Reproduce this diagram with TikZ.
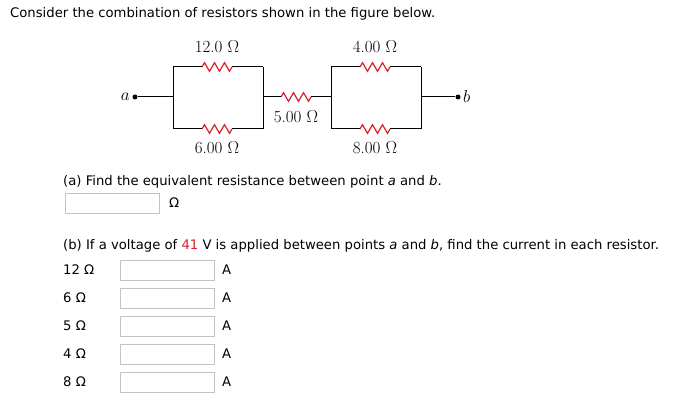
\documentclass[tikz,border=0pt]{standalone}
\usepackage{fontspec}
\newfontfamily\vfont{DejaVu Sans}
\definecolor{resred}{RGB}{220,30,45}
\definecolor{boxgray}{RGB}{195,195,195}
\begin{document}
\begin{tikzpicture}[x=1pt,y=-1pt,
  wire/.style={line width=1pt},
  res/.style={draw=resred,line width=1.2pt,line join=miter},
  lbl/.style={font=\fontsize{17}{18}\selectfont,inner sep=0pt},
  txt/.style={font=\vfont\fontsize{13.2}{15}\selectfont,inner sep=0pt,anchor=west},
  ansbox/.style={draw=boxgray,line width=0.8pt,minimum width=94pt,minimum height=20pt,inner sep=0pt,anchor=west},
  dot/.style={circle,fill=black,inner sep=0pt,minimum size=5pt}]
\useasboundingbox (0,0) rectangle (677,409);
\fill[white] (0,0) rectangle (677,409);
% circuit coordinates
\node[dot] (a) at (135,97) {};
\node[dot] (b) at (458,97) {};
\node[lbl,anchor=east] at (130,97) {$a$};
\node[lbl,anchor=west] at (463,97) {$b$};
\coordinate (L1) at (173,97); \coordinate (L2) at (263,97);
\coordinate (R1) at (331,97); \coordinate (R2) at (421,97);
\coordinate (LT1) at (173,67); \coordinate (LT2) at (263,67);
\coordinate (LB1) at (173,129); \coordinate (LB2) at (263,129);
\coordinate (RT1) at (331,67); \coordinate (RT2) at (421,67);
\coordinate (RB1) at (331,129); \coordinate (RB2) at (421,129);
\newcommand\resistor[3]{%
  \coordinate (#3s) at (#1-15,#2); \coordinate (#3e) at (#1+15,#2);
  \draw[res] (#3s) -- ++(2.5,-4.3) -- ++(5,8.6) -- ++(5,-8.6) -- ++(5,8.6) -- ++(5,-8.6) -- ++(5,8.6) -- (#3e);}
\resistor{217}{67}{r12}
\resistor{217}{129}{r6}
\resistor{296}{97}{r5}
\resistor{375}{67}{r4}
\resistor{375}{129}{r8}
\draw[wire] (a) -- (L1);
\draw[wire] (LT1) -- (LB1);
\draw[wire] (LT2) -- (LB2);
\draw[wire] (LT1) -- (r12s); \draw[wire] (r12e) -- (LT2);
\draw[wire] (LB1) -- (r6s); \draw[wire] (r6e) -- (LB2);
\draw[wire] (L2) -- (r5s); \draw[wire] (r5e) -- (R1);
\draw[wire] (RT1) -- (RB1);
\draw[wire] (RT2) -- (RB2);
\draw[wire] (RT1) -- (r4s); \draw[wire] (r4e) -- (RT2);
\draw[wire] (RB1) -- (r8s); \draw[wire] (r8e) -- (RB2);
\draw[wire] (R2) -- (b);
\node[lbl] at (217,47) {12.0 $\Omega$};
\node[lbl] at (217,148) {6.00 $\Omega$};
\node[lbl] at (296,117) {5.00 $\Omega$};
\node[lbl] at (375,47) {4.00 $\Omega$};
\node[lbl] at (375,148) {8.00 $\Omega$};
% text
\node[txt] at (10,14) {Consider the combination of resistors shown in the figure below.};
\node[txt] at (63,182) {(a) Find the equivalent resistance between point \textit{a} and \textit{b}.};
\node[ansbox] (ra) at (65,203) {};
\node[txt] at (169,203) {Ω};
\node[txt] at (63,246) {(b) If a voltage of \textcolor{resred}{41} V is applied between points \textit{a} and \textit{b}, find the current in each resistor.};
\foreach \lab/\y [count=\i] in {12/270,6/298,5/326,4/354,8/382}{
  \node[txt] at (63,\y) {\lab\ Ω};
  \node[ansbox] (b\i) at (120,\y) {};
  \node[txt] at (222,\y) {A};
}
\end{tikzpicture}
\end{document}
